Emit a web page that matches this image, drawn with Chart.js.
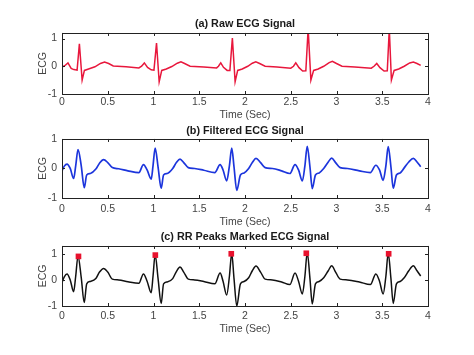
<!DOCTYPE html>
<html><head><meta charset="utf-8">
<script src="https://cdn.jsdelivr.net/npm/chart.js@4"></script>
<style>
html,body{margin:0;padding:0;background:#fff;width:474px;height:355px;overflow:hidden;}
canvas{position:absolute;left:0;}
</style></head>
<body>
<canvas id="ca" width="474" height="122" style="top:0px"></canvas>
<canvas id="cb" width="474" height="122" style="top:106px"></canvas>
<canvas id="cc" width="474" height="122" style="top:213px"></canvas>
<script>
// ---- data ----
const titles = ['(a) Raw ECG Signal', '(b) Filtered ECG Signal', '(c) RR Peaks Marked ECG Signal'];
const xTicks = [0, 0.5, 1, 1.5, 2, 2.5, 3, 3.5, 4];
const xTickLabels = ['0', '0.5', '1', '1.5', '2', '2.5', '3', '3.5', '4'];
const yTicks = [-1, 0, 1];
const yTickLabels = ['-1', '0', '1'];

const rawT = [0,0.03,0.065,0.1,0.13,0.165,0.19,0.22,0.245,0.29,0.36,0.42,0.465,0.51,0.56,0.7,0.84,0.87,0.90,0.935,0.975,1.005,1.033,1.062,1.09,1.14,1.2,1.26,1.30,1.34,1.40,1.55,1.69,1.71,1.735,1.765,1.805,1.835,1.862,1.892,1.92,1.97,2.03,2.08,2.118,2.16,2.22,2.35,2.50,2.53,2.555,2.59,2.63,2.665,2.69,2.72,2.75,2.80,2.86,2.92,2.955,3.0,3.06,3.2,3.38,3.41,3.44,3.475,3.52,3.555,3.577,3.60,3.63,3.68,3.74,3.80,3.84,3.88,3.92];
const rawV = [-0.03,0.02,0.12,-0.08,-0.12,-0.14,0.81,-0.5,-0.15,-0.1,-0.02,0.1,0.15,0.1,0.01,-0.02,-0.06,0.0,0.12,-0.04,-0.13,-0.14,0.84,-0.56,-0.15,-0.1,-0.01,0.11,0.16,0.1,0.0,-0.03,-0.06,0.0,0.12,-0.04,-0.15,-0.15,1.02,-0.56,-0.15,-0.1,0.0,0.11,0.16,0.1,0.0,-0.03,-0.07,0.0,0.12,-0.05,-0.17,-0.16,1.35,-0.5,-0.15,-0.1,0.0,0.13,0.18,0.1,0.0,-0.03,-0.07,0.0,0.1,-0.05,-0.17,-0.16,1.35,-0.5,-0.15,-0.1,0.0,0.12,0.15,0.1,0.03];

const filtT = [0,0.025,0.055,0.09,0.127,0.15,0.175,0.21,0.243,0.27,0.31,0.37,0.41,0.455,0.5,0.55,0.62,0.72,0.84,0.89,0.93,0.975,0.995,1.018,1.05,1.084,1.11,1.15,1.21,1.25,1.29,1.33,1.38,1.45,1.55,1.67,1.728,1.76,1.80,1.83,1.855,1.88,1.91,1.95,1.99,2.04,2.08,2.12,2.17,2.22,2.3,2.4,2.49,2.547,2.585,2.627,2.655,2.68,2.71,2.735,2.77,2.81,2.86,2.91,2.947,2.99,3.04,3.12,3.25,3.37,3.43,3.47,3.51,3.54,3.565,3.595,3.62,3.655,3.695,3.74,3.79,3.84,3.88,3.92];
const filtV = [-0.08,0.08,0.15,0.0,-0.34,0.1,0.64,0.1,-0.65,-0.22,-0.17,-0.02,0.18,0.3,0.2,0.03,-0.01,-0.08,-0.14,0.13,-0.05,-0.36,0.1,0.69,0.05,-0.67,-0.22,-0.17,0.0,0.2,0.32,0.2,0.03,0.0,-0.06,-0.14,0.13,-0.05,-0.42,0.1,0.69,0.05,-0.74,-0.22,-0.15,0.0,0.2,0.34,0.2,0.03,0.0,-0.08,-0.17,0.13,-0.05,-0.42,0.1,0.75,0.05,-0.68,-0.22,-0.15,0.0,0.22,0.35,0.2,0.03,0.0,-0.08,-0.14,0.11,-0.05,-0.4,0.1,0.74,0.05,-0.67,-0.22,-0.15,0.02,0.22,0.34,0.22,0.06];

const markT = filtT;
const markV = [-0.1,0.12,0.23,0.0,-0.45,0.15,0.92,0.1,-0.87,-0.15,-0.06,0.05,0.3,0.44,0.3,0.03,0.0,-0.07,-0.13,0.23,-0.05,-0.49,0.15,0.97,0.05,-0.9,-0.15,-0.08,0.05,0.32,0.49,0.3,0.03,0.0,-0.06,-0.15,0.26,-0.05,-0.58,0.15,1.02,0.05,-1.0,-0.15,-0.06,0.08,0.35,0.53,0.3,0.03,0.0,-0.08,-0.18,0.26,-0.05,-0.54,0.15,1.05,0.05,-0.92,-0.15,-0.06,0.08,0.35,0.54,0.3,0.03,0.0,-0.08,-0.18,0.23,-0.05,-0.54,0.15,1.02,0.05,-0.9,-0.15,-0.06,0.08,0.35,0.54,0.35,0.15];

const peakT = [0.18, 1.02, 1.85, 2.67, 3.57];
const peakV = [0.9, 0.95, 1.0, 1.02, 1.0];

// ---- helpers ----
const FONT = "'Liberation Sans', Arial, Helvetica, sans-serif";
const pts = (t, v) => t.map((x, i) => ({x: x, y: v[i]}));

const framePlugin = {
  id: 'frame',
  afterDraw(chart) {
    const {ctx, chartArea: a, scales} = chart;
    ctx.save();
    ctx.strokeStyle = '#222';
    ctx.lineWidth = 1;
    ctx.strokeRect(Math.round(a.left) + 0.5, Math.round(a.top) + 0.5, Math.round(a.right - a.left), Math.round(a.bottom - a.top));
    ctx.beginPath();
    xTicks.forEach(v => {
      const px = Math.round(scales.x.getPixelForValue(v)) + 0.5;
      ctx.moveTo(px, a.bottom); ctx.lineTo(px, a.bottom - 3);
      ctx.moveTo(px, a.top); ctx.lineTo(px, a.top + 3);
    });
    yTicks.forEach(v => {
      const py = Math.round(scales.y.getPixelForValue(v)) + 0.5;
      ctx.moveTo(a.left, py); ctx.lineTo(a.left + 3, py);
      ctx.moveTo(a.right, py); ctx.lineTo(a.right - 3, py);
    });
    ctx.stroke();
    ctx.restore();
  }
};

function makeChart(id, cfg) {
  const datasets = [{
    data: pts(cfg.t, cfg.v),
    borderColor: cfg.color,
    borderWidth: cfg.lw,
    pointRadius: 0,
    tension: cfg.smooth ? 0.4 : 0,
    cubicInterpolationMode: cfg.smooth ? 'monotone' : 'default',
    fill: false,
    order: 2
  }];
  if (cfg.peaks) {
    datasets.push({
      type: 'scatter',
      data: pts(peakT, peakV),
      pointStyle: 'rect',
      pointRadius: 4,
      backgroundColor: '#e8112d',
      borderColor: '#e8112d',
      borderWidth: 0,
      order: 1
    });
  }
  return new Chart(document.getElementById(id), {
    type: 'line',
    data: {datasets},
    options: {
      responsive: false,
      animation: false,
      events: [],
      layout: {padding: {left: 37, right: 46, top: cfg.titleTop, bottom: 0}},
      plugins: {
        legend: {display: false},
        tooltip: {enabled: false},
        title: {
          display: true, text: cfg.title, fullSize: false,
          font: {family: FONT, size: 10.8, weight: 'bold'}, color: '#1a1a1a',
          padding: {top: 0, bottom: cfg.titleGap}
        }
      },
      scales: {
        x: {
          type: 'linear', min: 0, max: 4,
          afterBuildTicks: s => { s.ticks = xTicks.map(v => ({value: v})); },
          afterFit: s => { s.height = cfg.xH; },
          grid: {display: false, drawTicks: false},
          border: {display: false},
          ticks: {font: {family: FONT, size: 10.5}, color: '#444', padding: cfg.xPad, maxRotation: 0, autoSkip: false,
                  callback: (v, i) => xTickLabels[i]},
          title: {display: true, text: 'Time (Sec)', font: {family: FONT, size: 10.5}, color: '#444', padding: {top: 0, bottom: cfg.xTitleGap}}
        },
        y: {
          min: -1, max: cfg.yMax,
          afterBuildTicks: s => { s.ticks = yTicks.map(v => ({value: v})); },
          afterFit: s => { s.width = 25; },
          grid: {display: false, drawTicks: false},
          border: {display: false},
          ticks: {font: {family: FONT, size: 10.5}, color: '#444', padding: 5,
                  callback: (v, i) => yTickLabels[i]},
          title: {display: true, text: 'ECG', font: {family: FONT, size: 10.5}, color: '#444', padding: {top: 0, bottom: 0}}
        }
      }
    },
    plugins: [framePlugin]
  });
}

makeChart('ca', {t: rawT, v: rawV, color: '#e8173c', lw: 1.5, smooth: false, title: titles[0], titleTop: 18, titleGap: 2, xH: 28, xPad: 2, xTitleGap: 1, yMax: 1.2});
makeChart('cb', {t: filtT, v: filtV, color: '#1c35dc', lw: 1.7, smooth: true, title: titles[1], titleTop: 19, titleGap: 1, xH: 30, xPad: 5, xTitleGap: 0, yMax: 1});
makeChart('cc', {t: markT, v: markV, color: '#111111', lw: 1.5, smooth: true, peaks: true, title: titles[2], titleTop: 18, titleGap: 2, xH: 29, xPad: 4, xTitleGap: 0, yMax: 1.3});
</script>
</body></html>
